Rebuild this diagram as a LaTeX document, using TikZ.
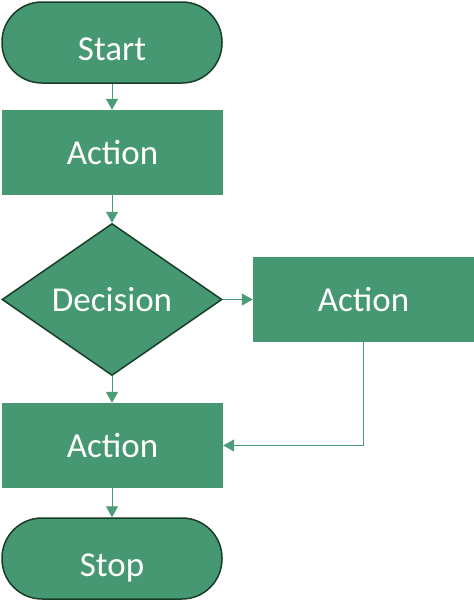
\documentclass[tikz,border=0pt]{standalone}
\usepackage{fontspec}
\setmainfont{Carlito}
\usetikzlibrary{shapes.geometric,arrows.meta}
\definecolor{boxfill}{RGB}{69,152,114}
\definecolor{boxline}{RGB}{24,62,40}
\definecolor{arrowc}{RGB}{76,156,120}
\tikzset{
  base/.style={fill=boxfill, text=white, font=\fontsize{35}{40}\selectfont, inner sep=0pt},
  termbox/.style={base, draw=boxline, line width=1.5pt, rectangle, rounded corners=40pt, minimum width=220pt, minimum height=81pt, text height=35pt, text depth=0pt},
  actbox/.style={base, rectangle, minimum width=221pt, minimum height=85pt},
  decbox/.style={base, draw=boxline, line width=1.5pt, diamond, aspect=1.45, minimum width=220pt, minimum height=152pt},
  flow/.style={draw=arrowc, line width=1pt, -{Triangle[width=12pt,length=11pt]}}
}
\begin{document}
\begin{tikzpicture}[x=1pt,y=-1pt]
\useasboundingbox (0,0) rectangle (474,606);
\node[termbox] (start) at (112,42.5) {Start};
\node[actbox] (a1) at (112.5,152.5) {Action};
\node[decbox] (dec) at (112,299.5) {Decision};
\node[actbox] (a2) at (363.5,299.5) {Action};
\node[actbox] (a3) at (112.5,445.5) {Action};
\node[termbox] (stop) at (112,558.5) {Stop};
\draw[flow] (start.south) -- (start.south |- a1.north);
\draw[flow] (a1.south) -- (a1.south -| dec.north) -- (dec.north);
\draw[flow] (dec.east) -- (a2.west);
\draw[flow] (dec.south) -- (a3.north -| dec.south);
\draw[flow] (a2.south) |- (a3.east);
\draw[flow] (a3.south -| stop.north) -- (stop.north);
\end{tikzpicture}
\end{document}
